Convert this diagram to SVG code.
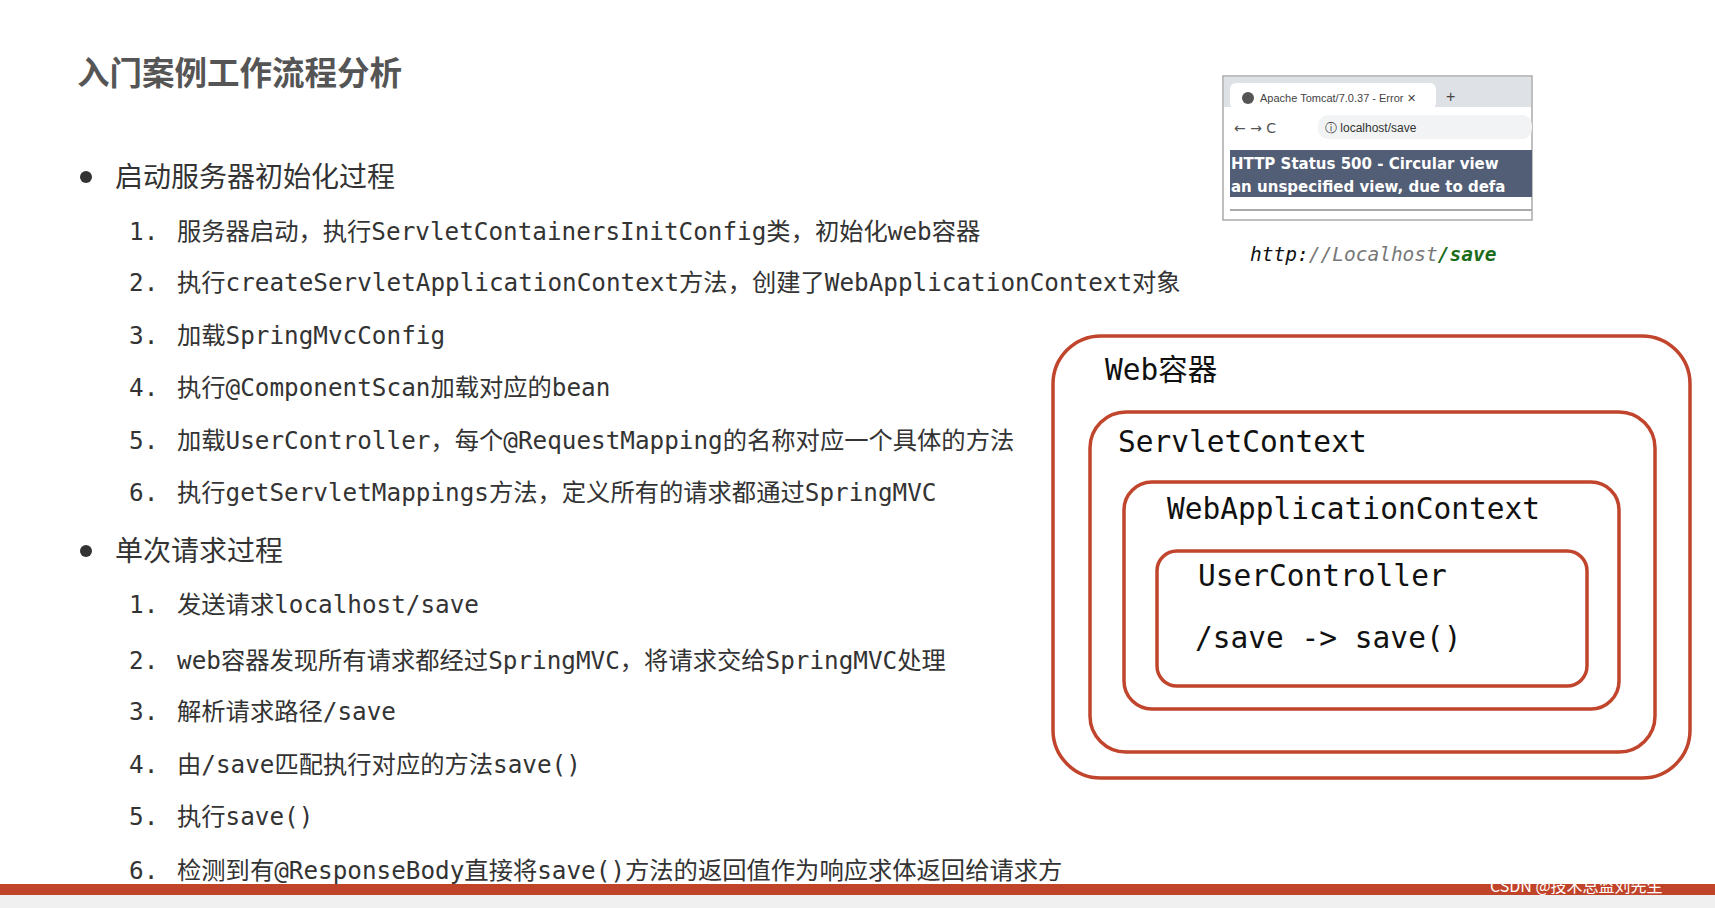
<svg xmlns="http://www.w3.org/2000/svg" width="1715" height="908" viewBox="0 0 1715 908">
<style>
.t{font-family:"DejaVu Sans Mono","Noto Sans CJK SC",monospace;font-size:24.3px;fill:#333}
.h{font-family:"Noto Sans CJK SC",sans-serif;font-size:28px;fill:#333}
.b{fill:none;stroke:#c0452c;stroke-width:3.5}
.l{font-family:"DejaVu Sans Mono","Noto Sans CJK SC",monospace;font-size:29.5px;fill:#111}
</style>
<rect width="1715" height="908" fill="#fff"/>
<text x="77" y="85" font-family="Noto Sans CJK SC,sans-serif" font-size="32.5" font-weight="bold" fill="#555">入门案例工作流程分析</text>
<circle cx="86" cy="177" r="6" fill="#333"/>
<text x="115" y="187" class="h">启动服务器初始化过程</text>
<g class="t">
<text x="129" y="240">1.</text><text x="177" y="240">服务器启动，执行ServletContainersInitConfig类，初始化web容器</text>
<text x="129" y="291">2.</text><text x="177" y="291">执行createServletApplicationContext方法，创建了WebApplicationContext对象</text>
<text x="129" y="344">3.</text><text x="177" y="344">加载SpringMvcConfig</text>
<text x="129" y="396">4.</text><text x="177" y="396">执行@ComponentScan加载对应的bean</text>
<text x="129" y="449">5.</text><text x="177" y="449">加载UserController，每个@RequestMapping的名称对应一个具体的方法</text>
<text x="129" y="501">6.</text><text x="177" y="501">执行getServletMappings方法，定义所有的请求都通过SpringMVC</text>
</g>
<circle cx="86" cy="551" r="6" fill="#333"/>
<text x="115" y="561" class="h">单次请求过程</text>
<g class="t">
<text x="129" y="613">1.</text><text x="177" y="613">发送请求localhost/save</text>
<text x="129" y="669">2.</text><text x="177" y="669">web容器发现所有请求都经过SpringMVC，将请求交给SpringMVC处理</text>
<text x="129" y="720">3.</text><text x="177" y="720">解析请求路径/save</text>
<text x="129" y="773">4.</text><text x="177" y="773">由/save匹配执行对应的方法save()</text>
<text x="129" y="825">5.</text><text x="177" y="825">执行save()</text>
<text x="129" y="879">6.</text><text x="177" y="879">检测到有@ResponseBody直接将save()方法的返回值作为响应求体返回给请求方</text>
</g>
<rect x="0" y="884" width="1715" height="11" fill="#c0442a"/>
<rect x="0" y="895" width="1715" height="13" fill="#f0f0f0"/>
<g id="screenshot">
<rect x="1223" y="76" width="309" height="144" fill="#fff" stroke="#aaa" stroke-width="1.5"/>
<rect x="1224" y="77" width="307" height="30" fill="#dee1e6"/>
<rect x="1230" y="83" width="206" height="26" rx="6" fill="#fff"/>
<text x="1260" y="102" font-family="Liberation Sans,sans-serif" font-size="11" fill="#444">Apache Tomcat/7.0.37 - Error  ✕</text>
<text x="1446" y="102" font-family="Liberation Sans,sans-serif" font-size="16" fill="#444">+</text>
<circle cx="1248" cy="98" r="6" fill="#555"/>
<text x="1234" y="133" font-family="DejaVu Sans,sans-serif" font-size="14" fill="#555">←  →  C</text>
<rect x="1318" y="115" width="214" height="24" rx="10" fill="#f1f3f4"/>
<text x="1325" y="132" font-family="Liberation Sans,sans-serif" font-size="12" fill="#333">ⓘ localhost/save</text>
<rect x="1230" y="150" width="302" height="47" fill="#525d76"/>
<text x="1231" y="169" font-family="DejaVu Sans,sans-serif" font-size="15" font-weight="bold" fill="#fff">HTTP Status 500 - Circular view</text>
<text x="1231" y="192" font-family="DejaVu Sans,sans-serif" font-size="15" font-weight="bold" fill="#fff">an unspecified view, due to defa</text>
<line x1="1230" y1="210" x2="1532" y2="210" stroke="#aaa" stroke-width="2"/>
</g>
<text x="1250" y="261" font-family="DejaVu Sans Mono,monospace" font-size="19.5" font-style="italic"><tspan fill="#111">http:</tspan><tspan fill="#777">//Localhost</tspan><tspan fill="#1a6b1a" font-weight="bold">/save</tspan></text>
<g id="web"><rect class="b" x="1053" y="336" width="637" height="442" rx="48"/><text class="l" x="1105" y="380">Web容器</text></g>
<g id="servletcontext"><rect class="b" x="1090" y="412" width="565" height="340" rx="36"/><text class="l" x="1118" y="452">ServletContext</text></g>
<g id="webappcontext"><rect class="b" x="1124" y="482" width="495" height="227" rx="28"/><text class="l" x="1167" y="519">WebApplicationContext</text></g>
<g id="usercontroller"><rect class="b" x="1157" y="551" width="430" height="135" rx="20"/><text class="l" x="1198" y="586">UserController</text><text class="l" x="1195" y="648">/save -&gt; save()</text></g>
<g id="connectors"/>
<text x="1490" y="892" font-family="Noto Sans CJK SC,sans-serif" font-size="16" fill="#fff">CSDN @技术总监刘先生</text>
</svg>
